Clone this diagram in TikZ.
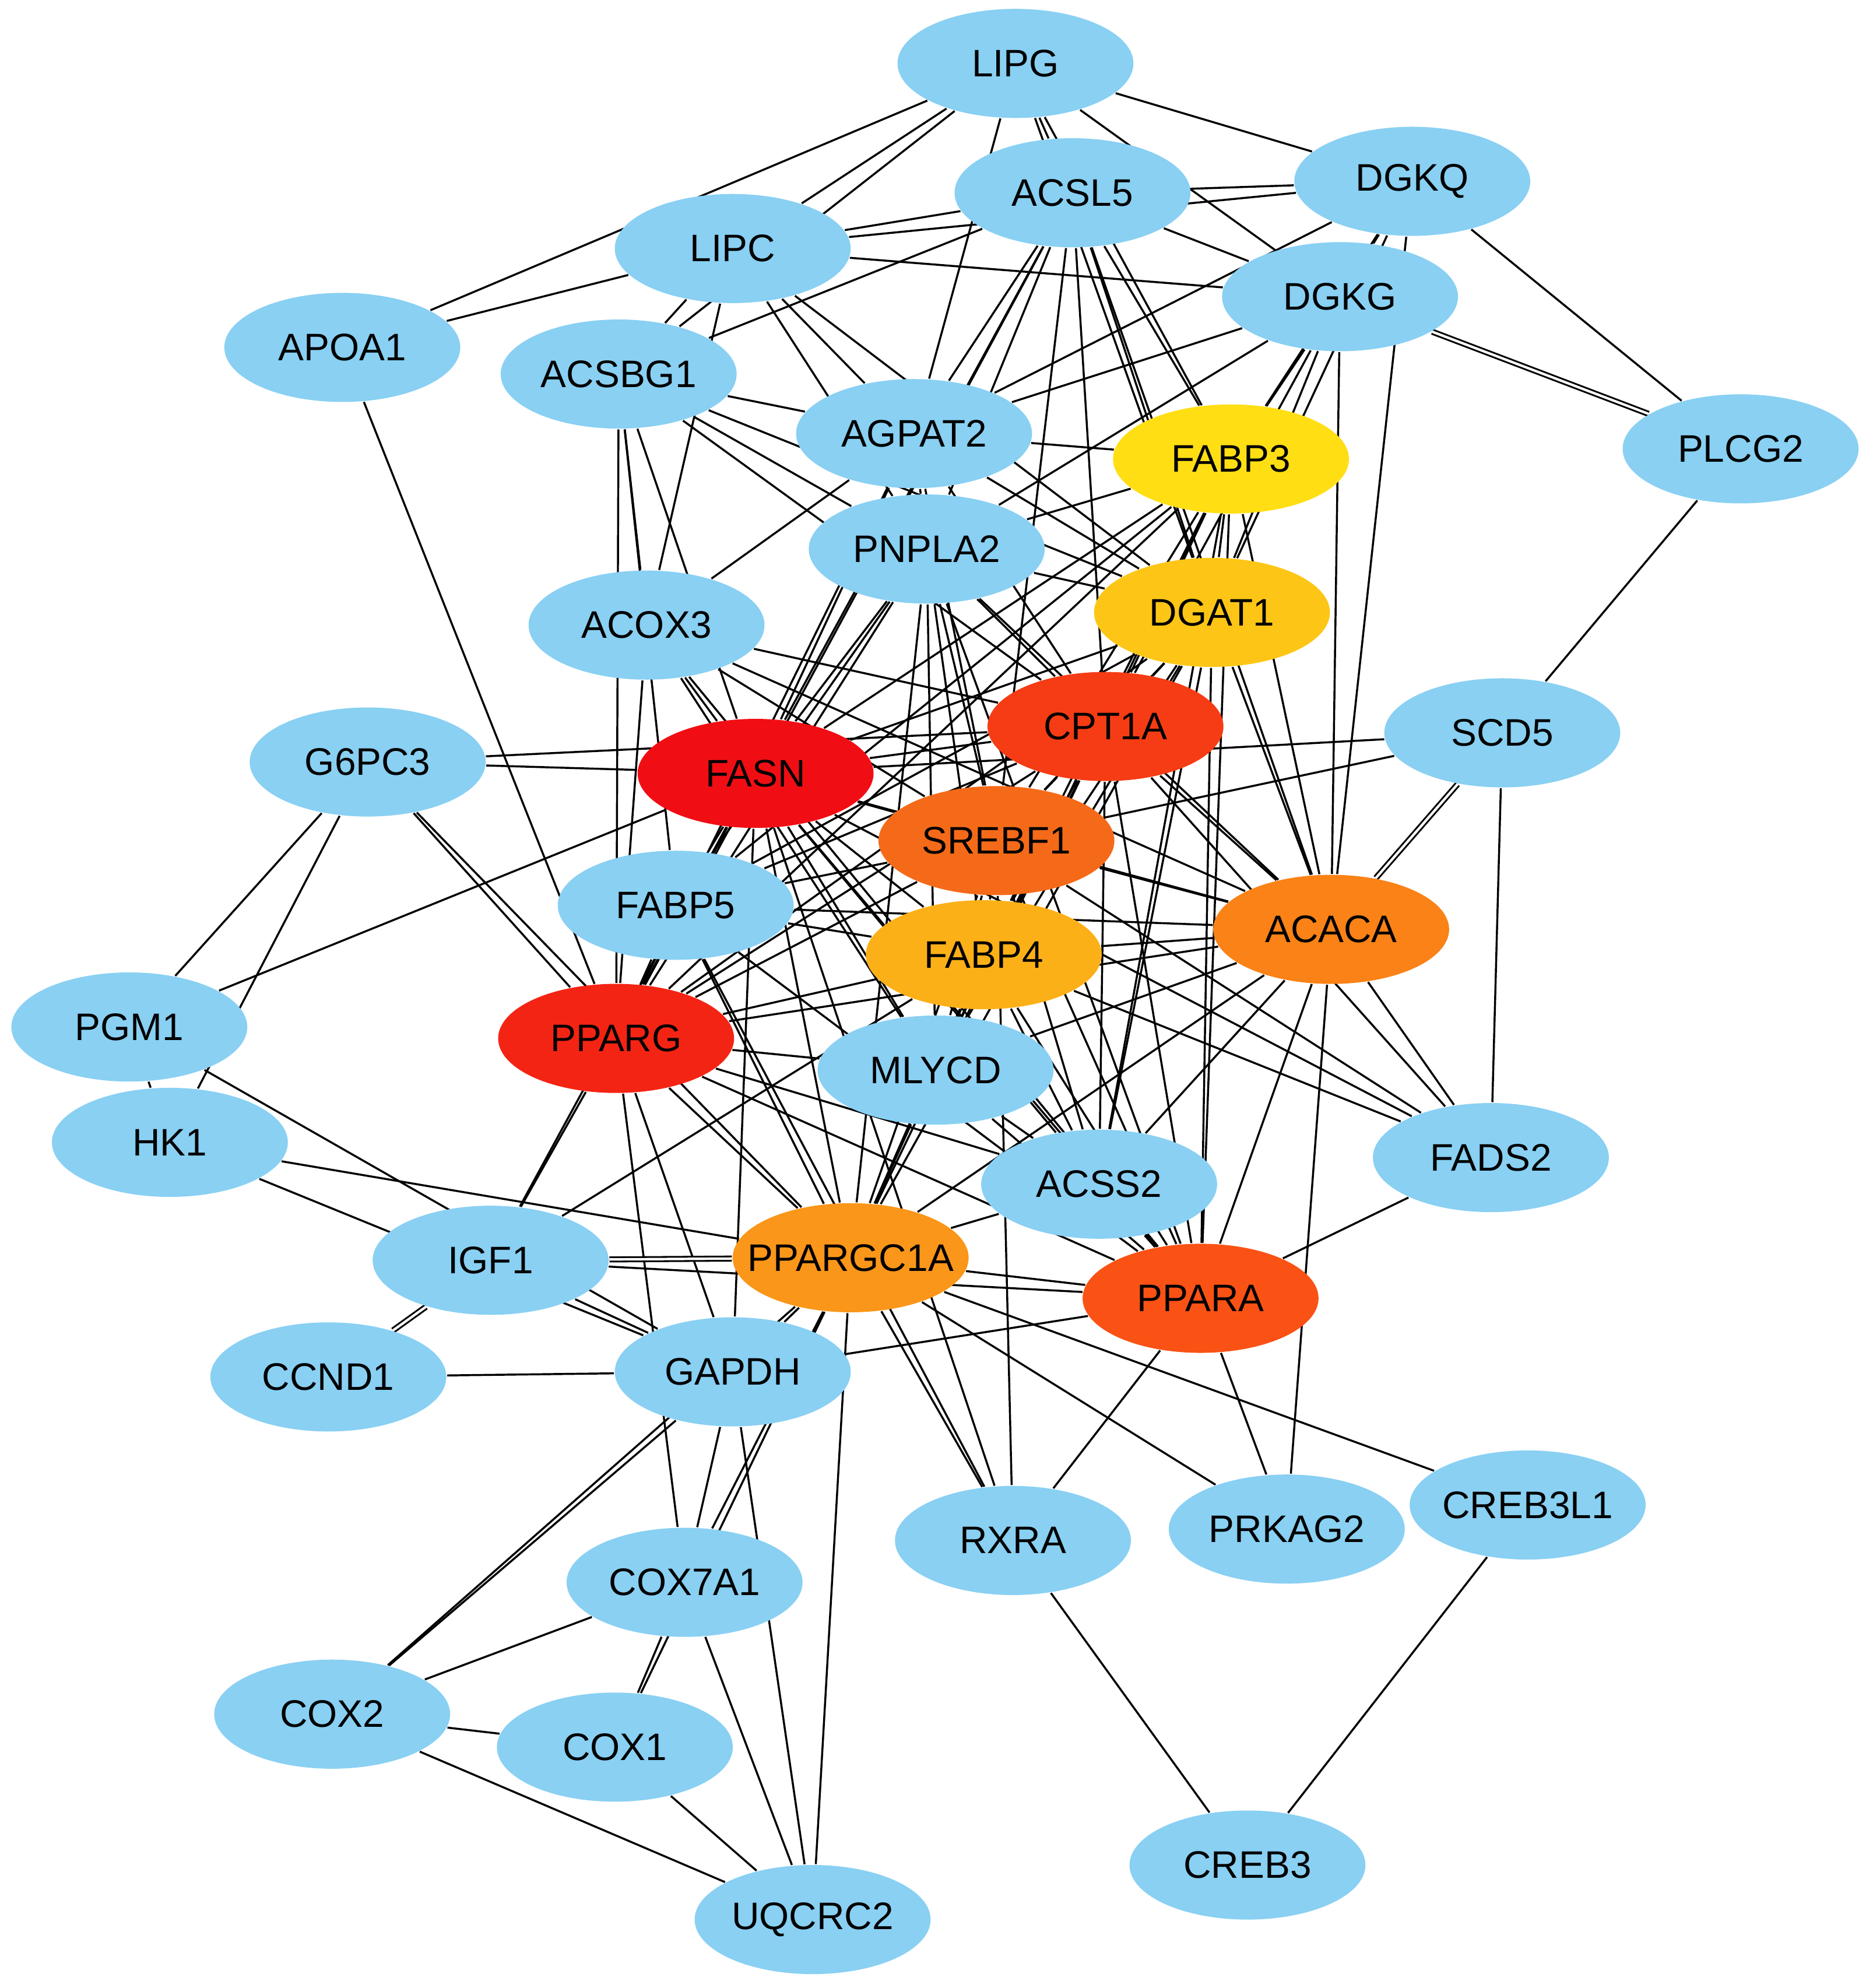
\documentclass[tikz,border=0pt]{standalone}
\usepackage{fontspec}
\setmainfont{Liberation Sans}
\usetikzlibrary{shapes.geometric}
\pgfdeclarelayer{bg}
\pgfsetlayers{bg,main}
\definecolor{nb}{RGB}{137,208,243}
\definecolor{cFASN}{RGB}{240,14,20}
\definecolor{cPPARG}{RGB}{244,36,20}
\definecolor{cCPT1A}{RGB}{245,60,20}
\definecolor{cPPARA}{RGB}{250,82,20}
\definecolor{cSREBF1}{RGB}{245,106,25}
\definecolor{cACACA}{RGB}{250,130,22}
\definecolor{cPPARGC1A}{RGB}{250,150,25}
\definecolor{cFABP4}{RGB}{252,176,24}
\definecolor{cDGAT1}{RGB}{253,198,22}
\definecolor{cFABP3}{RGB}{255,222,20}
\newcommand\gtext[1]{\makebox[0pt]{#1}}
\begin{document}
\begin{tikzpicture}[x=0.01cm,y=-0.01cm,
  gene/.style={ellipse, minimum width=1.86cm, minimum height=0.86cm, inner sep=0pt,
               fill=#1, font=\fontsize{8.6}{10}\selectfont},
  gene/.default=nb,
  lnk/.style={line width=0.45pt, black},
  dbl/.style={line width=0.4pt, black, double=white, double distance=0.55pt}]
\useasboundingbox (0,0) rectangle (1477,1568);
% nodes
\node[gene] (LIPG) at (801,50) {\gtext{LIPG}};
\node[gene] (ACSL5) at (846,152) {\gtext{ACSL5}};
\node[gene] (DGKQ) at (1114,143) {\gtext{DGKQ}};
\node[gene] (LIPC) at (578,196) {\gtext{LIPC}};
\node[gene] (DGKG) at (1057,234) {\gtext{DGKG}};
\node[gene] (APOA1) at (270,274) {\gtext{APOA1}};
\node[gene] (ACSBG1) at (488,295) {\gtext{ACSBG1}};
\node[gene] (AGPAT2) at (721,342) {\gtext{AGPAT2}};
\node[gene=cFABP3] (FABP3) at (971,362) {\gtext{FABP3}};
\node[gene] (PLCG2) at (1373,354) {\gtext{PLCG2}};
\node[gene] (PNPLA2) at (731,433) {\gtext{PNPLA2}};
\node[gene=cDGAT1] (DGAT1) at (956,483) {\gtext{DGAT1}};
\node[gene] (ACOX3) at (510,493) {\gtext{ACOX3}};
\node[gene=cCPT1A] (CPT1A) at (872,573) {\gtext{CPT1A}};
\node[gene] (SCD5) at (1185,578) {\gtext{SCD5}};
\node[gene] (G6PC3) at (290,601) {\gtext{G6PC3}};
\node[gene=cFASN] (FASN) at (596,610) {\gtext{FASN}};
\node[gene=cSREBF1] (SREBF1) at (786,663) {\gtext{SREBF1}};
\node[gene] (FABP5) at (533,714) {\gtext{FABP5}};
\node[gene=cACACA] (ACACA) at (1050,733) {\gtext{ACACA}};
\node[gene=cFABP4] (FABP4) at (776,753) {\gtext{FABP4}};
\node[gene] (PGM1) at (102,810) {\gtext{PGM1}};
\node[gene=cPPARG] (PPARG) at (486,819) {\gtext{PPARG}};
\node[gene] (MLYCD) at (738,844) {\gtext{MLYCD}};
\node[gene] (HK1) at (134,901) {\gtext{HK1}};
\node[gene] (FADS2) at (1176,913) {\gtext{FADS2}};
\node[gene] (ACSS2) at (867,934) {\gtext{ACSS2}};
\node[gene] (IGF1) at (387,994) {\gtext{IGF1}};
\node[gene=cPPARGC1A] (PPARGC1A) at (671,992) {\gtext{PPARGC1A}};
\node[gene=cPPARA] (PPARA) at (947,1024) {\gtext{PPARA}};
\node[gene] (CCND1) at (259,1086) {\gtext{CCND1}};
\node[gene] (GAPDH) at (578,1082) {\gtext{GAPDH}};
\node[gene] (RXRA) at (799,1215) {\gtext{RXRA}};
\node[gene] (PRKAG2) at (1015,1206) {\gtext{PRKAG2}};
\node[gene] (CREB3L1) at (1205,1187) {\gtext{CREB3L1}};
\node[gene] (COX7A1) at (540,1248) {\gtext{COX7A1}};
\node[gene] (COX2) at (262,1352) {\gtext{COX2}};
\node[gene] (COX1) at (485,1378) {\gtext{COX1}};
\node[gene] (CREB3) at (984,1471) {\gtext{CREB3}};
\node[gene] (UQCRC2) at (641,1514) {\gtext{UQCRC2}};
% edges
\begin{pgfonlayer}{bg}
\foreach \a/\b in {
LIPG/APOA1, LIPG/LIPC, LIPG/ACSBG1, LIPG/ACSL5, LIPG/DGKQ, LIPG/DGKG, LIPG/AGPAT2, LIPG/DGAT1, LIPG/FABP3,
APOA1/LIPC, APOA1/PPARG,
LIPC/ACSL5, LIPC/DGKQ, LIPC/DGKG, LIPC/ACSBG1, LIPC/AGPAT2, LIPC/PNPLA2, LIPC/ACOX3, LIPC/DGAT1,
ACSL5/ACSBG1, ACSL5/DGKQ, ACSL5/DGKG, ACSL5/AGPAT2, ACSL5/PNPLA2, ACSL5/FABP3, ACSL5/DGAT1, ACSL5/CPT1A, ACSL5/ACACA, ACSL5/FASN, ACSL5/SREBF1, ACSL5/PPARG,
DGKQ/DGKG, DGKQ/AGPAT2, DGKQ/PLCG2, DGKQ/ACACA, DGKQ/FABP3, DGKQ/DGAT1,
DGKG/AGPAT2, DGKG/PNPLA2, DGKG/FABP3, DGKG/DGAT1, DGKG/ACACA, DGKG/CPT1A,
SCD5/PLCG2,
ACSBG1/AGPAT2, ACSBG1/PNPLA2, ACSBG1/ACOX3, ACSBG1/FASN, ACSBG1/PPARG, ACSBG1/FABP5, ACSBG1/DGAT1, ACSBG1/CPT1A,
AGPAT2/PNPLA2, AGPAT2/ACOX3, AGPAT2/DGAT1, AGPAT2/FABP3, AGPAT2/CPT1A, AGPAT2/FASN, AGPAT2/SREBF1, AGPAT2/PPARG,
PNPLA2/DGAT1, PNPLA2/CPT1A, PNPLA2/FASN, PNPLA2/PPARG, PNPLA2/SREBF1, PNPLA2/FABP4, PNPLA2/ACACA, PNPLA2/PPARGC1A, PNPLA2/FABP5, PNPLA2/MLYCD, PNPLA2/PPARA, PNPLA2/FABP3,
FABP3/DGAT1, FABP3/CPT1A, FABP3/ACACA, FABP3/FASN, FABP3/PPARG, FABP3/SREBF1, FABP3/FABP4, FABP3/PPARA, FABP3/ACSS2, FABP3/MLYCD, FABP3/FABP5,
DGAT1/CPT1A, DGAT1/SREBF1, DGAT1/FASN, DGAT1/ACACA, DGAT1/PPARG, DGAT1/PPARA, DGAT1/FABP4, DGAT1/ACSS2, DGAT1/PPARGC1A, DGAT1/FABP5, DGAT1/MLYCD,
ACOX3/CPT1A, ACOX3/FASN, ACOX3/PPARG, ACOX3/SREBF1, ACOX3/ACACA, ACOX3/PPARA, ACOX3/MLYCD,
CPT1A/FASN, CPT1A/SREBF1, CPT1A/ACACA, CPT1A/PPARA, CPT1A/PPARG, CPT1A/PPARGC1A, CPT1A/FABP4, CPT1A/MLYCD, CPT1A/ACSS2, CPT1A/FABP5, CPT1A/G6PC3, CPT1A/FADS2,
SCD5/FASN, SCD5/SREBF1, SCD5/FADS2,
G6PC3/FASN, G6PC3/PPARG, G6PC3/PGM1, G6PC3/HK1, G6PC3/PPARGC1A,
FASN/SREBF1, FASN/ACACA, FASN/PPARG, FASN/FABP4, FASN/FABP5, FASN/MLYCD, FASN/ACSS2, FASN/PPARA, FASN/PPARGC1A, FASN/PGM1, FASN/FADS2, FASN/IGF1, FASN/GAPDH, FASN/RXRA,
SREBF1/ACACA, SREBF1/FADS2, SREBF1/PPARG, SREBF1/FABP4, SREBF1/PPARA, SREBF1/PPARGC1A, SREBF1/ACSS2, SREBF1/MLYCD, SREBF1/FABP5, SREBF1/RXRA,
FABP5/PPARG, FABP5/FABP4, FABP5/ACACA, FABP5/PPARA, FABP5/PPARGC1A, FABP5/RXRA,
ACACA/MLYCD, ACACA/PPARA, ACACA/PPARG, ACACA/PPARGC1A, ACACA/FABP4, ACACA/ACSS2, ACACA/PRKAG2, ACACA/FADS2,
FABP4/PPARG, FABP4/PPARA, FABP4/PPARGC1A, FABP4/MLYCD, FABP4/ACSS2, FABP4/IGF1, FABP4/FADS2,
PGM1/HK1, PGM1/GAPDH,
PPARG/IGF1, PPARG/GAPDH, PPARG/PPARA, PPARG/PPARGC1A, PPARG/MLYCD, PPARG/ACSS2, PPARG/COX7A1,
MLYCD/PPARA, MLYCD/ACSS2, MLYCD/PPARGC1A,
HK1/GAPDH, HK1/PPARGC1A,
FADS2/PPARA,
ACSS2/PPARGC1A, ACSS2/PPARA,
IGF1/GAPDH, IGF1/PPARA,
PPARGC1A/PPARA, PPARGC1A/GAPDH, PPARGC1A/RXRA, PPARGC1A/PRKAG2, PPARGC1A/CREB3L1, PPARGC1A/COX7A1, PPARGC1A/COX1, PPARGC1A/UQCRC2, PPARGC1A/COX2,
PPARA/GAPDH, PPARA/RXRA, PPARA/PRKAG2,
CCND1/GAPDH,
GAPDH/COX2, GAPDH/COX7A1, GAPDH/UQCRC2,
RXRA/CREB3, CREB3L1/CREB3,
COX7A1/COX2, COX7A1/COX1, COX7A1/UQCRC2,
COX2/COX1, COX2/UQCRC2, COX1/UQCRC2}
  \draw[lnk] (\a) -- (\b);
\foreach \a/\b in {IGF1/PPARGC1A, CCND1/IGF1, SCD5/ACACA, DGKG/PLCG2}
  \draw[dbl] (\a) -- (\b);
\end{pgfonlayer}
\end{tikzpicture}
\end{document}
